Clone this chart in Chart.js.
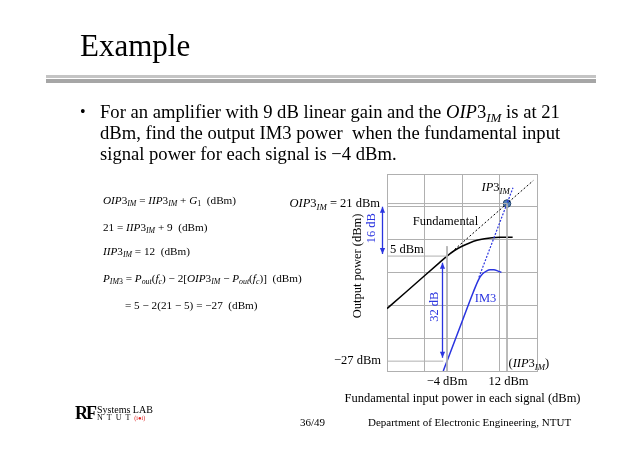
<!DOCTYPE html>
<html>
<head>
<meta charset="utf-8">
<script src="https://cdn.jsdelivr.net/npm/chart.js@4.4.1/dist/chart.umd.min.js"></script>
<style>
  html, body { margin: 0; padding: 0; background: #fff; }
  #slide { position: relative; width: 638px; height: 451px; overflow: hidden;
           font-family: "Liberation Serif", "Times New Roman", serif; color: #000; }
  #chart { position: absolute; left: 0; top: 0; }
  .abs { position: absolute; white-space: nowrap; }
  .title { left: 80px; top: 28px; font-size: 31px; }
  .rule1 { left: 46px; top: 75px; width: 550px; height: 3px; background: #c4c4c4; }
  .rule2 { left: 46px; top: 79px; width: 550px; height: 4px; background: #a6a6a6; }
  .bullet { left: 80px; top: 101px; font-size: 18.6px; line-height: 21px; }
  .bullet .dot { position: absolute; left: 0; top: 0; font-size: 16px; }
  .bullet .txt { position: absolute; left: 20px; top: 0; }
  .eq { font-size: 11.2px; }
  sub { font-size: 70%; vertical-align: -0.3em; line-height: 0; }
  .foot { font-size: 11px; }
</style>
</head>
<body>
<div id="slide">
  <canvas id="chart" width="638" height="451"></canvas>

  <div class="abs title">Example</div>
  <div class="abs rule1"></div>
  <div class="abs rule2"></div>

  <div class="abs bullet">
    <span class="dot">&#8226;</span>
    <div class="txt">For an amplifier with 9 dB linear gain and the <i>OIP</i>3<sub><i>IM</i></sub> is at 21<br>dBm, find the output IM3 power&nbsp; when the fundamental input<br>signal power for each signal is &minus;4 dBm.</div>
  </div>

  <div class="abs eq" style="left:103px; top:194px;"><i>OIP</i>3<sub><i>IM</i></sub> = <i>IIP</i>3<sub><i>IM</i></sub> + <i>G</i><sub>1</sub> &nbsp;(dBm)</div>
  <div class="abs eq" style="left:103px; top:221px;">21 = <i>IIP</i>3<sub><i>IM</i></sub> + 9 &nbsp;(dBm)</div>
  <div class="abs eq" style="left:103px; top:245px;"><i>IIP</i>3<sub><i>IM</i></sub> = 12 &nbsp;(dBm)</div>
  <div class="abs eq" style="left:103px; top:272px;"><i>P</i><sub><i>IM</i>3</sub> = <i>P</i><sub><i>out</i></sub>(<i>f</i><sub><i>c</i></sub>) &minus; 2[<i>OIP</i>3<sub><i>IM</i></sub> &minus; <i>P</i><sub><i>out</i></sub>(<i>f</i><sub><i>c</i></sub>)] &nbsp;(dBm)</div>
  <div class="abs eq" style="left:125px; top:299px;">= 5 &minus; 2(21 &minus; 5) = &minus;27 &nbsp;(dBm)</div>

  <div class="abs" style="left:75px; top:403px; font-size:18px; font-weight:bold; letter-spacing:-2px;">RF</div>
  <div class="abs" style="left:97px; top:404px; font-size:10px;">Systems LAB</div>
  <div class="abs" style="left:97px; top:413px; font-size:8px; letter-spacing:4px;">NTUT<span style="color:#d22; font-size:6px; letter-spacing:0;">(i&#9679;i)</span></div>
  <div class="abs foot" style="left:300px; top:416px;">36/49</div>
  <div class="abs foot" style="left:368px; top:416px;">Department of Electronic Engineering, NTUT</div>
</div>

<script>
// axis ranges and grid (dBm)
const xTicks = [-20, -10, 0, 10, 20];
const yTicks = [-30, -20, -10, 0, 10, 20, 30];

// fundamental output vs input
const fundIn  = [-20, -10, -6, -4, -2, 0, 2, 4, 6, 8, 10, 13.5];
const fundOut = [-11, -1, 3, 5, 6.7, 8, 9, 9.8, 10.3, 10.6, 10.7, 10.7];

// linear extension of fundamental (slope 1)
const fundExtIn  = [-2, 19];
const fundExtOut = [7, 28];

// IM3 output vs input
const im3In  = [-5, -4, 0, 3, 4.5, 5.5, 6.5, 7.5, 8.5, 9.5, 10.5];
const im3Out = [-30, -27, -15, -6, -2, -0.4, 0.4, 0.8, 0.8, 0.5, 0];

// linear extension of IM3 (slope 3)
const im3ExtIn  = [4.5, 13.6];
const im3ExtOut = [-1.5, 25.8];

// intercept point
const ip3In  = [12];
const ip3Out = [21];

// reference levels
const oip3 = 21, pOut = 5, pIm3 = -27, pIn = -4, iip3 = 12;

// dimension arrows: x, y from, y to
const arrows = [
  { x: -21.2, y1: 20, y2: 5.6 },
  { x: -5.2, y1: 3, y2: -26 }
];

const BLUE = '#2a34e0';
const GRID = '#b0b0b0';

const pts = (xs, ys) => xs.map((x, i) => ({ x: x, y: ys[i] }));

function refLine(data) {
  return { data: data, showLine: true, borderColor: GRID, borderWidth: 1,
           pointRadius: 0, clip: false };
}
function arrowLine(a) {
  return { data: [{ x: a.x, y: a.y1 }, { x: a.x, y: a.y2 }], showLine: true,
           borderColor: BLUE, borderWidth: 1.3, clip: false, pointRadius: 0 };
}

// rich text helper: parts [{t, it, sub}]
function drawRich(ctx, parts, x, y, align, size, color) {
  const font = (p) => (p.it ? 'italic ' : '') + (p.sub ? size * 0.7 : size) + 'px "Liberation Serif", serif';
  let w = 0;
  parts.forEach(p => { ctx.font = font(p); w += ctx.measureText(p.t).width; });
  let cx = align === 'right' ? x - w : align === 'center' ? x - w / 2 : x;
  ctx.fillStyle = color;
  ctx.textAlign = 'left';
  ctx.textBaseline = 'middle';
  parts.forEach(p => {
    ctx.font = font(p);
    ctx.fillText(p.t, cx, p.sub ? y + size * 0.32 : y);
    cx += ctx.measureText(p.t).width;
  });
}
function drawRot(ctx, text, x, y, size, color) {
  ctx.save();
  ctx.translate(x, y);
  ctx.rotate(-Math.PI / 2);
  ctx.font = size + 'px "Liberation Serif", serif';
  ctx.fillStyle = color;
  ctx.textAlign = 'center';
  ctx.textBaseline = 'middle';
  ctx.fillText(text, 0, 0);
  ctx.restore();
}
function head(ctx, x, y, dir) {
  // dir -1 points up, +1 points down
  ctx.beginPath();
  ctx.moveTo(x, y);
  ctx.lineTo(x - 2.6, y - dir * 6);
  ctx.lineTo(x + 2.6, y - dir * 6);
  ctx.closePath();
  ctx.fill();
}

const labelsPlugin = {
  id: 'labels',
  afterDatasetsDraw(chart) {
    const ctx = chart.ctx;
    const xs = chart.scales.x, ys = chart.scales.y;
    const a = chart.chartArea;
    const X = v => xs.getPixelForValue(v), Y = v => ys.getPixelForValue(v);
    ctx.save();
    ctx.fillStyle = BLUE;
    arrows.forEach(ar => {
      head(ctx, X(ar.x), Y(ar.y1), -1);
      head(ctx, X(ar.x), Y(ar.y2), 1);
    });
    drawRich(ctx, [{ t: 'OIP', it: true }, { t: '3' }, { t: 'IM', it: true, sub: true }, { t: ' = 21 dBm' }],
      a.left - 7, Y(oip3), 'right', 12.5, '#000');
    drawRot(ctx, '16 dB', a.left - 15, Y((oip3 + pOut) / 2 + 0.5), 12.5, BLUE);
    drawRot(ctx, 'Output power (dBm)', a.left - 29, Y(2), 12.5, '#000');
    drawRich(ctx, [{ t: '5 dBm' }], a.left + 3, Y(pOut) - 6, 'left', 12.5, '#000');
    drawRich(ctx, [{ t: '\u221227 dBm' }], a.left - 6, Y(pIm3), 'right', 12.5, '#000');
    drawRich(ctx, [{ t: 'Fundamental' }], X(-4.4), Y(15.5), 'center', 12.5, '#000');
    drawRich(ctx, [{ t: 'IP', it: true }, { t: '3' }, { t: 'IM', it: true, sub: true }],
      X(5.2), Y(25.8), 'left', 12.5, '#000');
    drawRich(ctx, [{ t: 'IM3' }], X(3.4), Y(-8), 'left', 12.5, BLUE);
    drawRot(ctx, '32 dB', X(-7.3), Y(-10.4), 12.5, BLUE);
    drawRich(ctx, [{ t: '(' }, { t: 'IIP', it: true }, { t: '3' }, { t: 'IM', it: true, sub: true }, { t: ')' }],
      X(iip3) + 1.5, Y(-27.8), 'left', 12.5, '#000');
    drawRich(ctx, [{ t: '\u22124 dBm' }], X(pIn), a.bottom + 11, 'center', 12.5, '#000');
    drawRich(ctx, [{ t: '12 dBm' }], X(iip3) + 1.5, a.bottom + 11, 'center', 12.5, '#000');
    drawRich(ctx, [{ t: 'Fundamental input power in each signal (dBm)' }],
      (a.left + a.right) / 2 + 0.5, a.bottom + 28, 'center', 12.5, '#000');
    ctx.restore();
  }
};

new Chart(document.getElementById('chart'), {
  type: 'scatter',
  data: {
    datasets: [
      refLine([{ x: -20, y: oip3 }, { x: iip3, y: oip3 }]),
      refLine([{ x: -20, y: pOut }, { x: pIn, y: pOut }]),
      refLine([{ x: -20, y: pIm3 }, { x: -5, y: pIm3 }]),
      refLine([{ x: pIn, y: 8 }, { x: pIn, y: -30 }]),
      refLine([{ x: iip3, y: oip3 }, { x: iip3, y: -30 }]),
      {
        label: 'Fundamental extension',
        data: pts(fundExtIn, fundExtOut), showLine: true,
        borderColor: '#000', borderWidth: 1, borderDash: [2, 2], pointRadius: 0
      },
      {
        label: 'IM3 extension',
        data: pts(im3ExtIn, im3ExtOut), showLine: true,
        borderColor: BLUE, borderWidth: 1.2, borderDash: [2, 1.5], pointRadius: 0
      },
      {
        label: 'Fundamental',
        data: pts(fundIn, fundOut), showLine: true,
        borderColor: '#000', borderWidth: 1.5, pointRadius: 0,
        cubicInterpolationMode: 'monotone'
      },
      {
        label: 'IM3',
        data: pts(im3In, im3Out), showLine: true,
        borderColor: BLUE, borderWidth: 1.5, pointRadius: 0,
        cubicInterpolationMode: 'monotone'
      },
      arrowLine(arrows[0]),
      arrowLine(arrows[1]),
      {
        label: 'IP3',
        data: pts(ip3In, ip3Out),
        pointRadius: 3.8, pointBackgroundColor: '#4f80bd',
        pointBorderColor: '#25456e', pointBorderWidth: 1, clip: false
      }
    ]
  },
  options: {
    responsive: false,
    animation: false,
    layout: { padding: { left: 387, top: 174, right: 101, bottom: 80 } },
    plugins: { legend: { display: false }, tooltip: { enabled: false } },
    scales: {
      x: {
        type: 'linear', min: xTicks[0], max: xTicks[xTicks.length - 1],
        afterBuildTicks: s => { s.ticks = xTicks.map(v => ({ value: v })); },
        ticks: { display: false },
        grid: { color: GRID, lineWidth: 1, drawTicks: false },
        border: { display: true, color: GRID }
      },
      y: {
        type: 'linear', min: yTicks[0], max: yTicks[yTicks.length - 1],
        afterBuildTicks: s => { s.ticks = yTicks.map(v => ({ value: v })); },
        ticks: { display: false },
        grid: { color: GRID, lineWidth: 1, drawTicks: false },
        border: { display: true, color: GRID }
      }
    }
  },
  plugins: [labelsPlugin]
});
</script>
</body>
</html>
